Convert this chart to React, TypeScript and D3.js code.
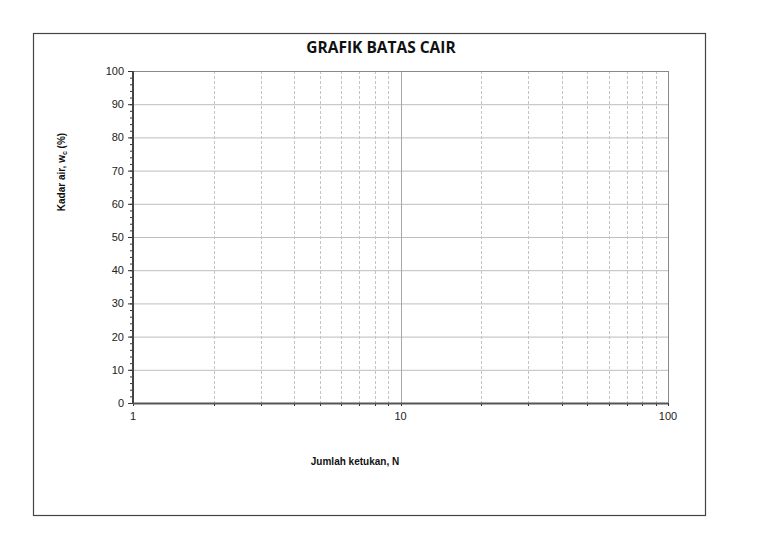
import { useEffect, useRef } from 'react';
import * as d3 from 'd3';

const title = 'GRAFIK BATAS CAIR';
const xLabel = 'Jumlah ketukan, N';
const xDomain: [number, number] = [1, 100];
const xMajorTicks = [1, 10, 100];
const xMinorTicks = [2, 3, 4, 5, 6, 7, 8, 9, 20, 30, 40, 50, 60, 70, 80, 90];
const yDomain: [number, number] = [0, 100];
const yMajorTicks = [0, 10, 20, 30, 40, 50, 60, 70, 80, 90, 100];
const yMinorTicks = d3.range(0, 101, 2);

const App = () => {
    const svgRef = useRef<SVGSVGElement | null>(null);

    useEffect(() => {
        if (!svgRef.current) return;
        const svg = d3.select(svgRef.current);
        svg.selectAll('*').remove();

        const margin = { left: 133, right: 668, top: 71, bottom: 403 };

        const x = d3.scaleLog().domain(xDomain).range([margin.left, margin.right]);
        const y = d3.scaleLinear().domain(yDomain).range([margin.bottom, margin.top]);

        // outer frame
        svg
            .append('rect')
            .attr('x', 33.5)
            .attr('y', 33.5)
            .attr('width', 672)
            .attr('height', 482)
            .attr('fill', '#fff')
            .attr('stroke', '#444')
            .attr('stroke-width', 1.2);

        svg
            .append('text')
            .attr('x', 381)
            .attr('y', 53)
            .attr('text-anchor', 'middle')
            .attr('font-family', 'Open Sans, Liberation Sans, sans-serif')
            .attr('font-weight', 'bold')
            .attr('font-size', 15.5)
            .attr('fill', '#111')
            .text(title);

        // horizontal gridlines
        svg
            .append('g')
            .selectAll('line')
            .data(yMajorTicks.filter((d) => d > 0))
            .join('line')
            .attr('x1', margin.left)
            .attr('x2', margin.right)
            .attr('y1', (d) => y(d) + 0.5)
            .attr('y2', (d) => y(d) + 0.5)
            .attr('stroke', '#bdbdbd')
            .attr('stroke-width', 1);

        // vertical minor gridlines
        svg
            .append('g')
            .selectAll('line')
            .data(xMinorTicks)
            .join('line')
            .attr('x1', (d) => Math.round(x(d)) + 0.5)
            .attr('x2', (d) => Math.round(x(d)) + 0.5)
            .attr('y1', margin.top)
            .attr('y2', margin.bottom)
            .attr('stroke', '#c4c4c4')
            .attr('stroke-width', 1)
            .attr('stroke-dasharray', '3,2');

        // vertical major gridlines
        svg
            .append('g')
            .selectAll('line')
            .data(xMajorTicks.slice(1))
            .join('line')
            .attr('x1', (d) => Math.round(x(d)) + 0.5)
            .attr('x2', (d) => Math.round(x(d)) + 0.5)
            .attr('y1', margin.top)
            .attr('y2', margin.bottom)
            .attr('stroke', '#a8a8a8')
            .attr('stroke-width', 1);

        // top border
        svg
            .append('line')
            .attr('x1', margin.left)
            .attr('x2', margin.right)
            .attr('y1', margin.top + 0.5)
            .attr('y2', margin.top + 0.5)
            .attr('stroke', '#888');

        // y axis
        const yAxis = svg.append('g').attr('transform', `translate(${margin.left},0)`);
        yAxis
            .selectAll('line.minor')
            .data(yMinorTicks)
            .join('line')
            .attr('class', 'minor')
            .attr('x1', -3)
            .attr('x2', 0)
            .attr('y1', (d) => y(d) + 0.5)
            .attr('y2', (d) => y(d) + 0.5)
            .attr('stroke', '#333');
        yAxis
            .selectAll('line.major')
            .data(yMajorTicks)
            .join('line')
            .attr('class', 'major')
            .attr('x1', -5)
            .attr('x2', 0)
            .attr('y1', (d) => y(d) + 0.5)
            .attr('y2', (d) => y(d) + 0.5)
            .attr('stroke', '#333');
        yAxis
            .append('line')
            .attr('x1', 0)
            .attr('x2', 0)
            .attr('y1', margin.top)
            .attr('y2', margin.bottom + 1)
            .attr('stroke', '#444')
            .attr('stroke-width', 2);
        yAxis
            .selectAll('text')
            .data(yMajorTicks)
            .join('text')
            .attr('x', -9)
            .attr('y', (d) => y(d) + 4)
            .attr('text-anchor', 'end')
            .attr('font-family', 'Liberation Sans, Arial, sans-serif')
            .attr('font-size', 11)
            .attr('fill', '#222')
            .text((d) => d);

        // x axis
        const xAxis = svg.append('g').attr('transform', `translate(0,${margin.bottom})`);
        xAxis
            .selectAll('line.tick')
            .data([...xMajorTicks, ...xMinorTicks])
            .join('line')
            .attr('class', 'tick')
            .attr('x1', (d) => Math.round(x(d)) + 0.5)
            .attr('x2', (d) => Math.round(x(d)) + 0.5)
            .attr('y1', 0)
            .attr('y2', 3)
            .attr('stroke', '#333');
        xAxis
            .append('line')
            .attr('x1', margin.left)
            .attr('x2', margin.right)
            .attr('y1', 0.5)
            .attr('y2', 0.5)
            .attr('stroke', '#555')
            .attr('stroke-width', 2);
        xAxis
            .selectAll('text')
            .data(xMajorTicks)
            .join('text')
            .attr('x', (d) => x(d))
            .attr('y', 17)
            .attr('text-anchor', 'middle')
            .attr('font-family', 'Liberation Sans, Arial, sans-serif')
            .attr('font-size', 11)
            .attr('fill', '#222')
            .text((d) => d);

        // right border
        svg
            .append('line')
            .attr('x1', margin.right + 0.5)
            .attr('x2', margin.right + 0.5)
            .attr('y1', margin.top)
            .attr('y2', margin.bottom)
            .attr('stroke', '#888');

        svg
            .append('text')
            .attr('x', 355)
            .attr('y', 465)
            .attr('text-anchor', 'middle')
            .attr('font-family', 'Liberation Sans, Arial, sans-serif')
            .attr('font-weight', 'bold')
            .attr('font-size', 10)
            .attr('fill', '#111')
            .text(xLabel);

        const yl = svg
            .append('text')
            .attr('transform', 'translate(65,172) rotate(-90)')
            .attr('text-anchor', 'middle')
            .attr('font-family', 'Liberation Sans, Arial, sans-serif')
            .attr('font-weight', 'bold')
            .attr('font-size', 10)
            .attr('fill', '#111');
        yl.append('tspan').text('Kadar air, w');
        yl.append('tspan').attr('font-size', 7).attr('dy', 2).text('c');
        yl.append('tspan').attr('dy', -2).text(' (%)');
    }, []);

    return (
        <svg
            ref={svgRef}
            width={768}
            height={543}
            style={{ position: 'absolute', left: 0, top: 0, background: '#fff' }}
        />
    );
};

export default App;
